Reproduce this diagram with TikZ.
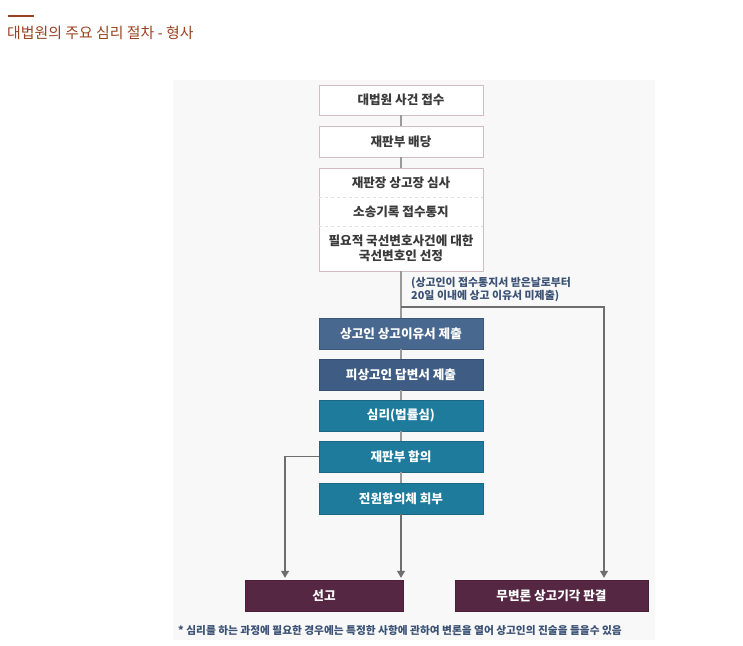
\documentclass[tikz,border=0pt]{standalone}
\usepackage{fontspec}
\setmainfont{Noto Sans CJK KR}
\usetikzlibrary{arrows.meta,fit,calc}
\definecolor{titlecol}{HTML}{9A4220}
\definecolor{panel}{HTML}{F8F8F8}
\definecolor{boxborder}{HTML}{D4BCC6}
\definecolor{textgray}{HTML}{3A3A3A}
\definecolor{steel}{HTML}{496890}
\definecolor{steeld}{HTML}{3F5D84}
\definecolor{teal}{HTML}{1E7B9B}
\definecolor{plum}{HTML}{552743}
\definecolor{notecol}{HTML}{3B5275}
\definecolor{linecol}{HTML}{9A9A9A}
\definecolor{arrcol}{HTML}{6E6E6E}
\tikzset{
  wbox/.style={fill=white, minimum width=164pt, inner sep=0pt, text=textgray, font=\bfseries\fontsize{12.6}{15.5}\selectfont, align=center},
  cbox/.style={draw=#1!85!black, fill=#1, minimum width=164pt, minimum height=31pt, inner sep=0pt, text=white, font=\bfseries\fontsize{12.6}{15}\selectfont},
  conn/.style={draw=linecol, line width=1.2pt},
  arr/.style={conn, -{Triangle[width=8pt,length=7pt]}, arrcol, shorten >=2pt},
  divider/.style={draw=black!12, dashed, line width=0.8pt},
}
\begin{document}
\begin{tikzpicture}[x=1pt,y=-1pt]
\useasboundingbox (0,0) rectangle (743,645);
\fill[white] (0,0) rectangle (743,645);
% title
\draw[titlecol, line width=2pt] (8,16) -- (34,16);
\node[anchor=west, text=titlecol, font=\fontsize{14.9}{17}\selectfont, inner sep=0pt] (title) at (7,33) {대법원의 주요 심리 절차 - 형사};
% panel
\fill[panel] (173,80) rectangle (655,640);
% boxes
\node[wbox, draw=boxborder, minimum height=30pt] (b1) at (401,100) {대법원 사건 접수};
\node[wbox, draw=boxborder, minimum height=31pt] (b2) at (401,141.5) {재판부 배당};
\node[wbox, minimum height=29pt] (b3a) at (401,182.5) {재판장 상고장 심사};
\node[wbox, minimum height=29pt] (b3b) at (401,211.5) {소송기록 접수통지};
\node[wbox, minimum height=45pt] (b3c) at (401,248.5) {필요적 국선변호사건에 대한\\국선변호인 선정};
\node[fit=(b3a)(b3b)(b3c), draw=boxborder, inner sep=0pt] (b3) {};
\draw[divider] (b3a.south west) -- (b3a.south east);
\draw[divider] (b3b.south west) -- (b3b.south east);
\node[cbox=steel] (b4) at (401,333.5) {상고인 상고이유서 제출};
\node[cbox=steeld] (b5) at (401,374.5) {피상고인 답변서 제출};
\node[cbox=teal] (b6) at (401,415.5) {심리(법률심)};
\node[cbox=teal] (b7) at (401,456.5) {재판부 합의};
\node[cbox=teal] (b8) at (401,498.5) {전원합의체 회부};
\node[cbox=plum, minimum width=158pt] (b9) at (324,595.5) {선고};
\node[cbox=plum, minimum width=193pt] (b10) at (551.5,595.5) {무변론 상고기각 판결};
% annotation
\node[anchor=west, align=left, text=notecol, font=\bfseries\fontsize{10.9}{13}\selectfont, inner sep=0pt] (note) at (411,289.5) {(상고인이 접수통지서 받은날로부터\\20일 이내에 상고 이유서 미제출)};
% footnote
\node[anchor=west, text=notecol, font=\bfseries\fontsize{10.7}{12}\selectfont, inner sep=0pt] (foot) at (178,631) {* 심리를 하는 과정에 필요한 경우에는 특정한 사항에 관하여 변론을 열어 상고인의 진술을 들을수 있음};
% connectors
\draw[conn] (b1) -- (b2);
\draw[conn] (b2) -- (b3);
\draw[conn] (b3) -- (b4);
\draw[conn] (b4) -- (b5);
\draw[conn] (b5) -- (b6);
\draw[conn] (b6) -- (b7);
\draw[conn] (b7) -- (b8);
\coordinate (br) at (401,307);
\coordinate (brR) at (604,307);
\coordinate (lb) at (285,456.5);
\draw[arr] (br) -- (brR) -- (brR |- b10.north);
\draw[arr] (b7.west) -- (lb) -- (lb |- b9.north);
\draw[arr] (b8.south) -- (b8.south |- b9.north);
\end{tikzpicture}
\end{document}
